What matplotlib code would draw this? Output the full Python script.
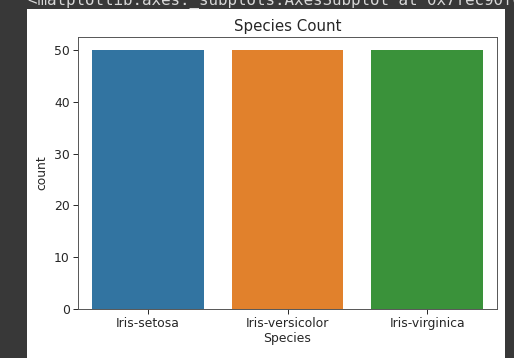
import matplotlib.pyplot as plt
from matplotlib.patches import Rectangle

species = ["Iris-setosa", "Iris-versicolor", "Iris-virginica"]
counts = [50, 50, 50]
bar_colors = ["#3274a1", "#e1812c", "#3a923a"]

W, H = 514, 358
fig = plt.figure(figsize=(W / 100, H / 100), dpi=100, facecolor="#383838")

# white notebook output area behind the axes
fig.patches.append(Rectangle((27 / W, 0), (505 - 27) / W, (H - 9) / H,
                             transform=fig.transFigure, facecolor="white",
                             edgecolor="none", zorder=-5))
fig.text(28 / W, 1 - 5 / H, "<matplotlib.axes._subplots.AxesSubplot at 0x7fec90f0",
         family="DejaVu Sans Mono", fontsize=11.4, color="#d8d8d8", va="baseline")

ax = fig.add_axes([78 / W, 1 - 309 / H, (497 - 78) / W, (309 - 37) / H])
ax.set_facecolor("white")
ax.bar(range(len(species)), counts, width=0.8, color=bar_colors)
ax.set_xlim(-0.5, 2.5)
ax.set_ylim(0, 52.5)
ax.set_xticks(range(len(species)))
ax.set_xticklabels(species)
ax.set_yticks([0, 10, 20, 30, 40, 50])
ax.tick_params(labelsize=8.9, width=0.7, length=3.5, pad=2.5, colors="#262626")
ax.set_xlabel("Species", fontsize=8.9, labelpad=1.5, color="#262626")
ax.set_ylabel("count", fontsize=8.9, labelpad=4, color="#262626")
ax.set_title("Species Count", fontsize=10.8, pad=4.5, color="#262626")
for s in ax.spines.values():
    s.set_linewidth(0.7)
    s.set_color("#555555")

fig.savefig("out.png", dpi=100, facecolor=fig.get_facecolor())
